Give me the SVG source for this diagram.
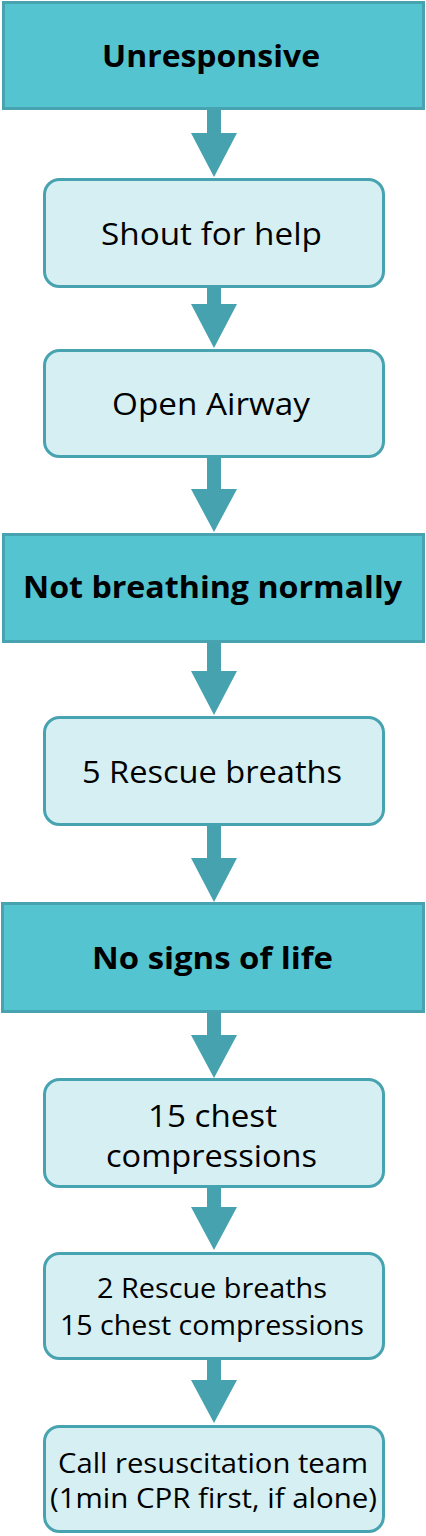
<svg xmlns="http://www.w3.org/2000/svg" width="426" height="1536" viewBox="0 0 426 1536">
<style>
.dark{fill:#54C4D0;stroke:#47A3B0;stroke-width:3}
.light{fill:#D6EFF3;stroke:#47A3B0;stroke-width:3}
.arr{fill:#46A2AF;stroke:none}
text{font-family:"Open Sans","Noto Sans","DejaVu Sans",sans-serif;fill:#000;text-anchor:middle}
.b{font-weight:bold;font-size:30.5px}
.n{font-size:31px}
.s{font-size:27.5px}
</style>
<rect width="426" height="1536" fill="#ffffff"/>
<g id="connectors">
<path class="arr" d="M207,110H221V133H237L214,177L191,133H207Z"/>
<path class="arr" d="M207,288H221V304H237L214,348L191,304H207Z"/>
<path class="arr" d="M207,458H221V489H237L214,532L191,489H207Z"/>
<path class="arr" d="M207,643H221V671H237L214,715L191,671H207Z"/>
<path class="arr" d="M207,826H221V858H237L214,902L191,858H207Z"/>
<path class="arr" d="M207,1013H221V1035H237L214,1078L191,1035H207Z"/>
<path class="arr" d="M207,1188H221V1207H237L214,1250L191,1207H207Z"/>
<path class="arr" d="M207,1360H221V1380H237L214,1423L191,1380H207Z"/>
</g>
<g id="unresponsive">
<rect class="dark" x="3.5" y="2.5" width="420" height="106"/>
<text class="b" x="211" y="66.5" textLength="218" lengthAdjust="spacingAndGlyphs">Unresponsive</text>
</g>
<g id="shout">
<rect class="light" x="44.5" y="179.5" width="339" height="107" rx="15"/>
<text class="n" x="211.5" y="245" textLength="221" lengthAdjust="spacingAndGlyphs">Shout for help</text>
</g>
<g id="airway">
<rect class="light" x="44.5" y="350.5" width="339" height="106" rx="15"/>
<text class="n" x="211" y="415" textLength="198" lengthAdjust="spacingAndGlyphs">Open Airway</text>
</g>
<g id="notbreathing">
<rect class="dark" x="3.5" y="534.5" width="420" height="107"/>
<text class="b" x="212.5" y="598" textLength="379" lengthAdjust="spacingAndGlyphs">Not breathing normally</text>
</g>
<g id="rescue5">
<rect class="light" x="44.5" y="717.5" width="339" height="107" rx="15"/>
<text class="n" x="212" y="783" textLength="260" lengthAdjust="spacingAndGlyphs">5 Rescue breaths</text>
</g>
<g id="nosigns">
<rect class="dark" x="2.5" y="903.5" width="421" height="108"/>
<text class="b" x="212.5" y="969" textLength="241" lengthAdjust="spacingAndGlyphs">No signs of life</text>
</g>
<g id="compressions15">
<rect class="light" x="44.5" y="1079.5" width="339" height="107" rx="15"/>
<text class="n" x="212.5" y="1127" textLength="129" lengthAdjust="spacingAndGlyphs">15 chest</text>
<text class="n" x="211.5" y="1167" textLength="211" lengthAdjust="spacingAndGlyphs">compressions</text>
</g>
<g id="cycle">
<rect class="light" x="44.5" y="1253.5" width="339" height="105" rx="15"/>
<text class="s" x="212" y="1298" textLength="230" lengthAdjust="spacingAndGlyphs">2 Rescue breaths</text>
<text class="s" x="212" y="1335" textLength="304" lengthAdjust="spacingAndGlyphs">15 chest compressions</text>
</g>
<g id="callteam">
<rect class="light" x="44.5" y="1426.5" width="339" height="105" rx="15"/>
<text class="s" x="213" y="1473" textLength="310" lengthAdjust="spacingAndGlyphs">Call resuscitation team</text>
<text class="s" x="213.5" y="1508" textLength="327" lengthAdjust="spacingAndGlyphs">(1min CPR first, if alone)</text>
</g>
</svg>
